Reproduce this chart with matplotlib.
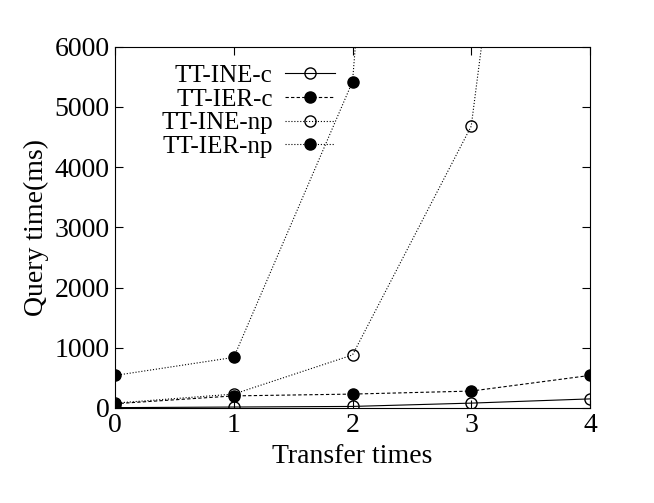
import matplotlib
matplotlib.use('Agg')
import matplotlib.pyplot as plt

x = [0, 1, 2, 3, 4]
ine_c = [5, 15, 25, 80, 150]
ier_c = [70, 200, 230, 280, 540]
ine_np = [80, 230, 880, 4680, 20000]
ier_np = [540, 840, 5420, 30000, 60000]

plt.rcParams['font.family'] = 'Liberation Serif'
plt.rcParams['font.size'] = 20

fig = plt.figure(figsize=(6.54, 5.03), dpi=100)
ax = fig.add_axes([0.176, 0.189, 0.726, 0.718])

ax.plot(x, ine_c, '-', color='black', lw=0.8, marker='o', mfc='none', mec='black', ms=8, label='TT-INE-c')
ax.plot(x, ier_c, '--', color='black', lw=0.8, dashes=(3, 2), marker='o', mfc='black', mec='black', ms=8, label='TT-IER-c')
ax.plot(x, ine_np, ':', color='black', lw=0.8, marker='o', mfc='none', mec='black', ms=8, label='TT-INE-np')
ax.plot(x, ier_np, ':', color='black', lw=0.8, marker='o', mfc='black', mec='black', ms=8, label='TT-IER-np')

ax.set_xlim(0, 4)
ax.set_ylim(0, 6000)
ax.set_xticks(x)
ax.set_yticks(range(0, 6001, 1000))
ax.tick_params(direction='in', length=6, top=True, right=True, pad=4)
ax.set_xlabel('Transfer times', labelpad=4)
ax.set_ylabel('Query time(ms)', labelpad=4)
ax.legend(loc='upper left', bbox_to_anchor=(0.06, 1.0), frameon=False, markerfirst=False,
          handlelength=2.0, labelspacing=0.05, borderpad=0.2, handletextpad=0.5, fontsize=18)
fig.savefig('out.png', dpi=100)
